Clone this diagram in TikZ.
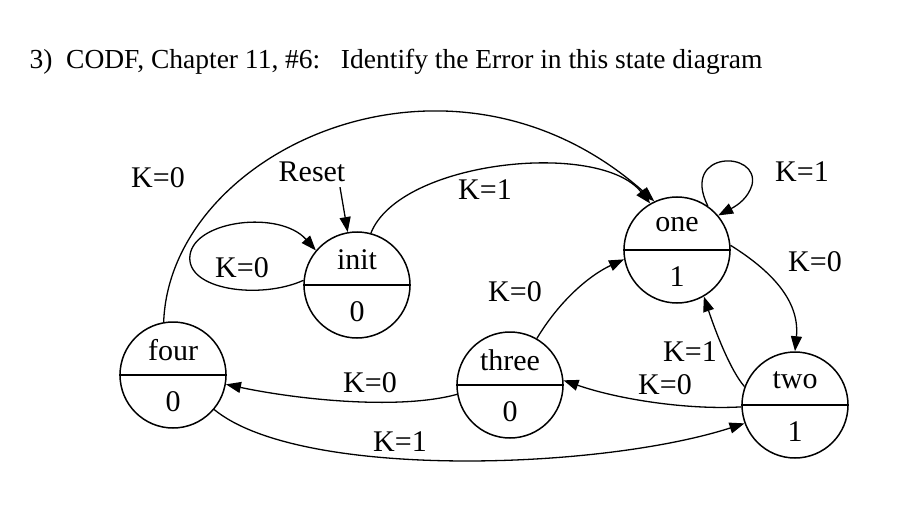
\documentclass[tikz,border=0pt]{standalone}
\usepackage{fontspec}
\setmainfont{Liberation Serif}
\usetikzlibrary{arrows.meta}
\begin{document}
\begin{tikzpicture}[x=1pt,y=-1pt,
  st/.style={circle,draw,line width=1.5pt,minimum size=106pt,inner sep=0pt},
  lb/.style={font=\fontsize{30}{32}\selectfont,inner sep=1pt},
  ar/.style={line width=1.3pt,-{Triangle[length=15pt,width=11pt]}}]
\useasboundingbox (0,0) rectangle (920,513);
\node[anchor=west,font=\fontsize{27.5}{30}\selectfont] (title) at (26,62) {3)\ \ CODF, Chapter 11, \#6:\ \ \ Identify the Error in this state diagram};
\foreach \n/\x/\y/\t/\o in {init/357/285/init/0, one/677/250/one/1, four/173/375/four/0, three/510/385/three/0, two/795/405/two/1}{
  \node[st] (\n) at (\x,\y) {};
  \draw[line width=1.5pt] (\n.west) -- (\n.east);
  \node[lb] (\n t) at (\x,\y-25) {\t};
  \node[lb] (\n o) at (\x,\y+27) {\o};
}
\draw[ar] (four.100) .. controls (170,150) and (450,20) .. (one.115);
\node[lb] (l1) at (158,178) {K=0};
\node[lb] (reset) at (312,172) {Reset};
\draw[ar] (reset.south) ++(28,4) coordinate (rs) (rs) -- (init.100);
\draw[ar] (init.75) .. controls (400,160) and (600,140) .. (one.120);
\node[lb] (l2) at (485,190) {K=1};
\draw[ar] (init.175) .. controls (260,300) and (185,290) .. (190,255) .. controls (195,220) and (280,210) .. (init.140);
\node[lb] (l3) at (242,268) {K=0};
\draw[ar] (one.55) .. controls (680,150) and (760,150) .. (752,185) .. controls (748,198) and (738,205) .. (one.40);
\node[lb] (l4) at (802,172) {K=1};
\draw[ar] (one.5) .. controls (770,270) and (800,300) .. (two.90);
\node[lb] (l5) at (815,262) {K=0};
\draw[ar] (two.160) .. controls (730,370) and (715,330) .. (one.-60);
\node[lb] (l6) at (690,352) {K=1};
\draw[ar] (two.182) .. controls (690,410) and (620,400) .. (three.5);
\node[lb] (l7) at (665,385) {K=0};
\draw[ar] (three.60) .. controls (560,300) and (590,275) .. (one.190);
\node[lb] (l8) at (515,292) {K=0};
\draw[ar] (three.190) .. controls (400,410) and (300,400) .. (four.-10);
\node[lb] (l9) at (370,383) {K=0};
\draw[ar] (four.-40) .. controls (300,480) and (600,470) .. (two.200);
\node[lb] (l10) at (400,442) {K=1};
\end{tikzpicture}
\end{document}
